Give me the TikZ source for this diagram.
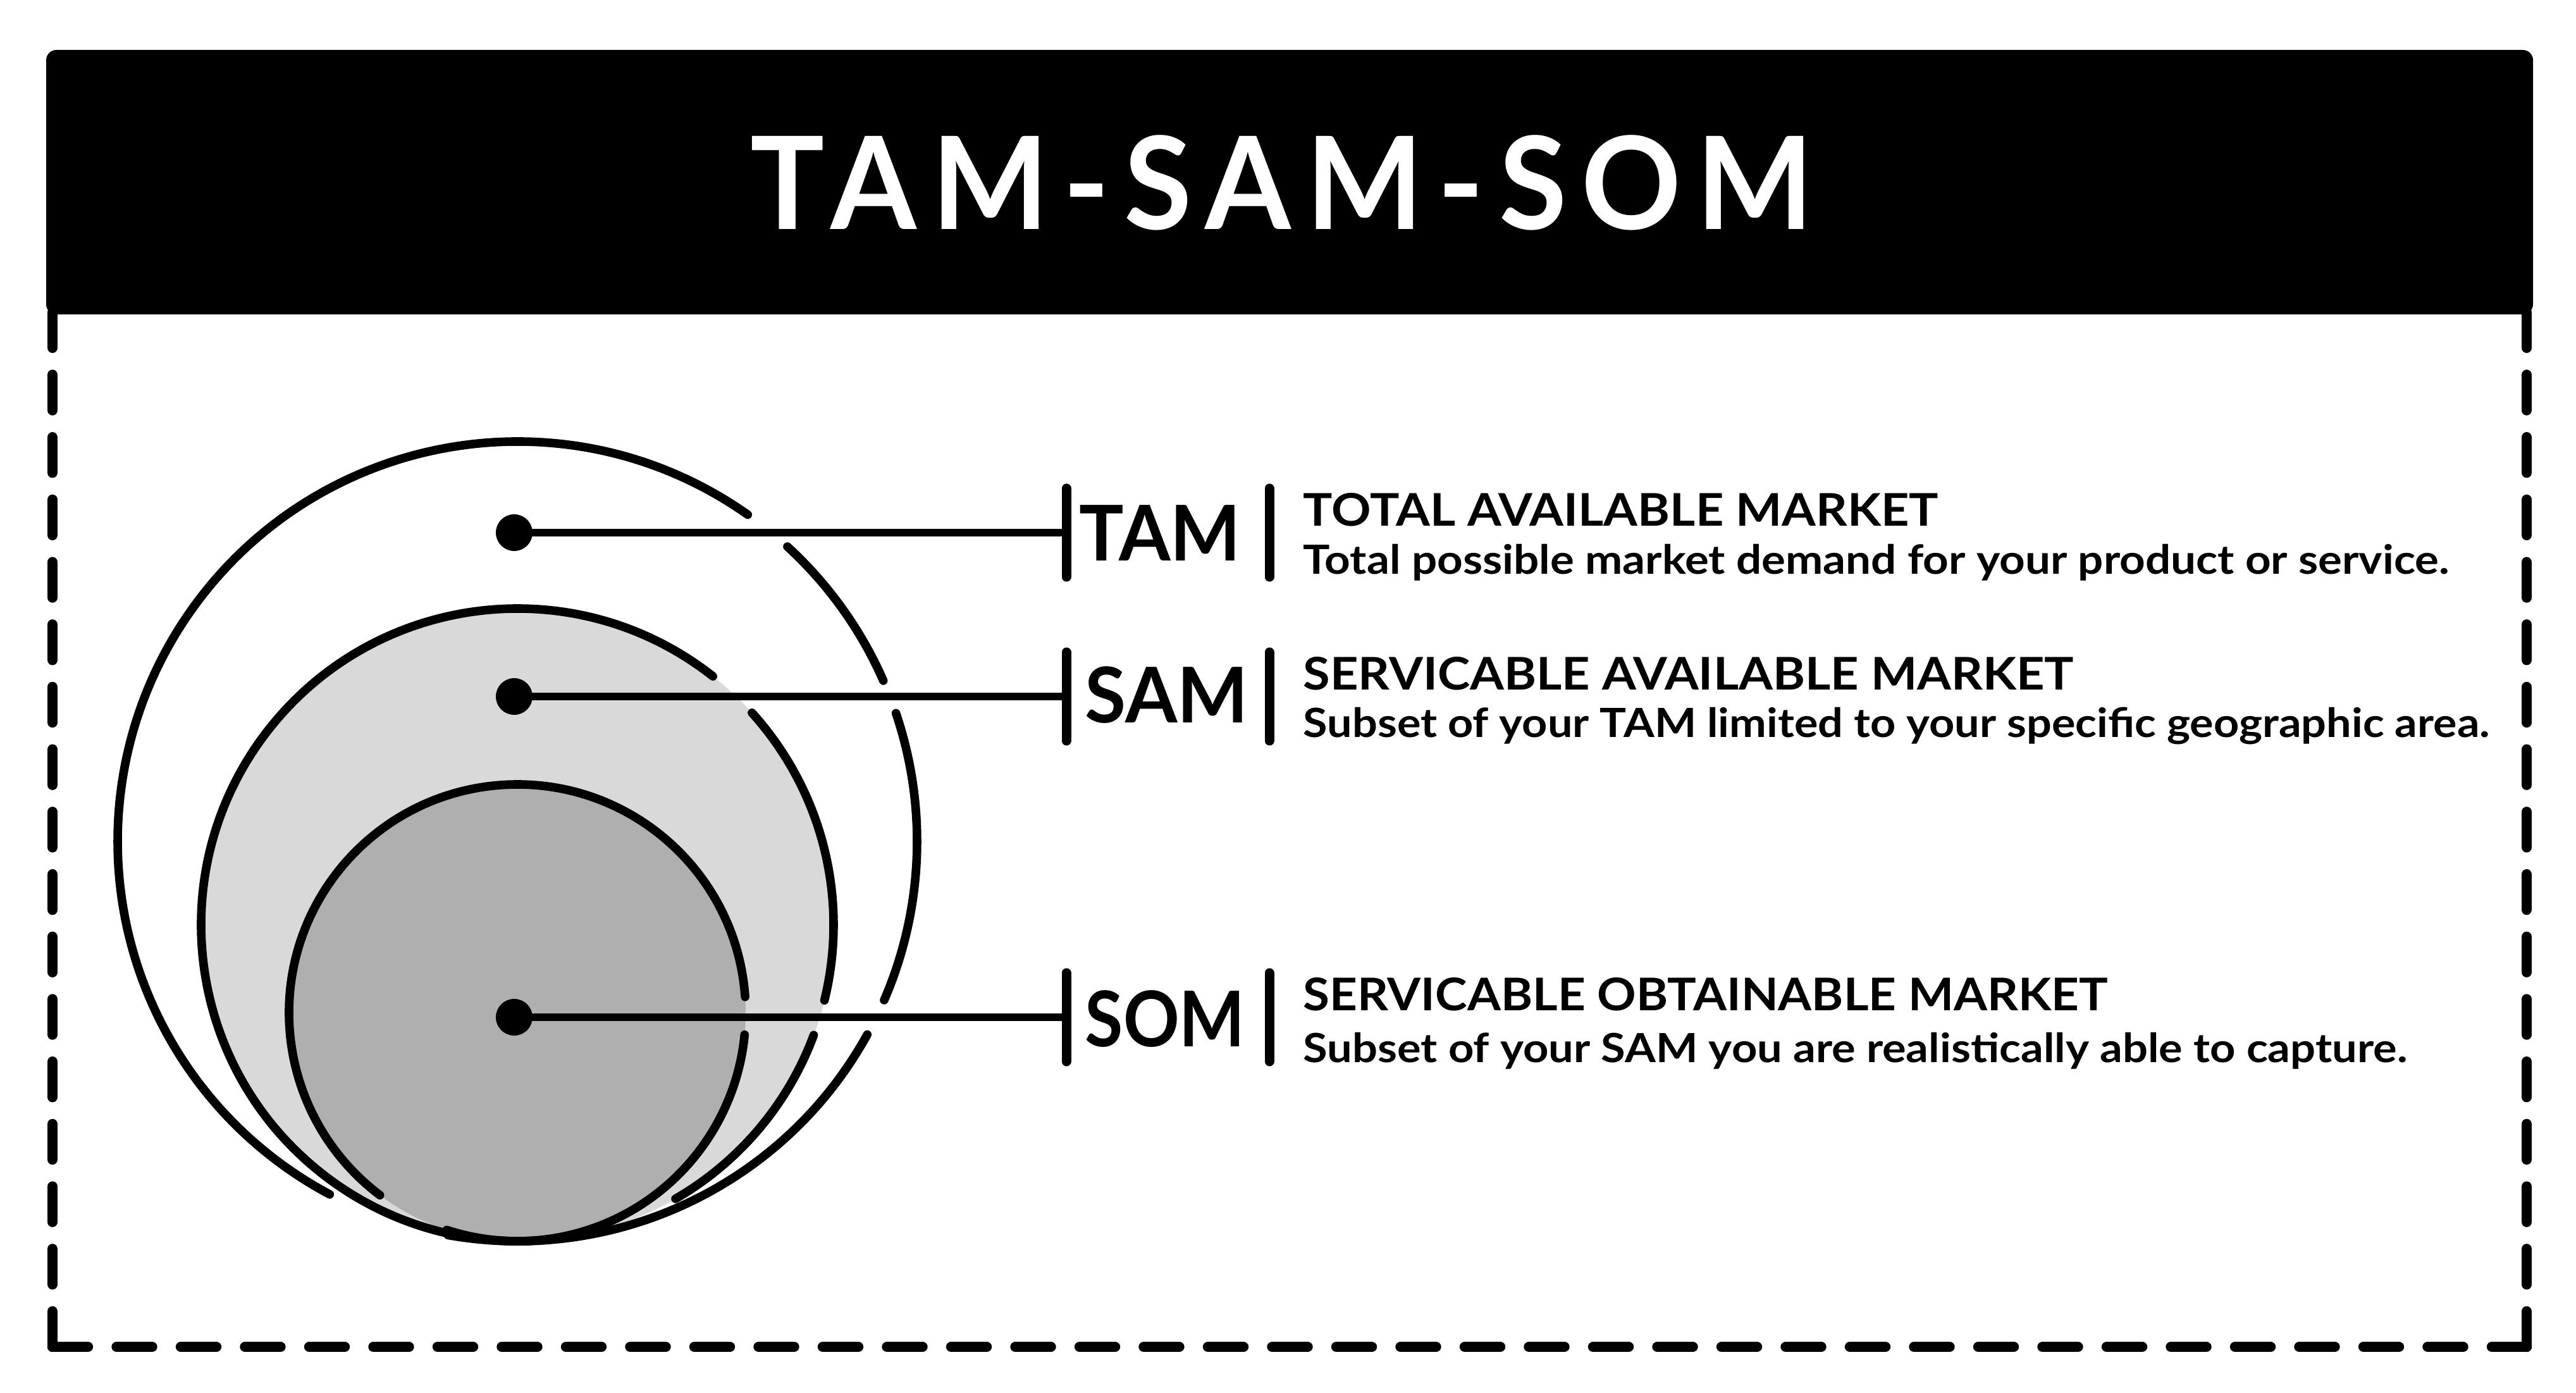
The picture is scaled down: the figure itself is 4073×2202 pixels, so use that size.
\documentclass[tikz,border=0pt]{standalone}
\usepackage{fontspec}
\usepackage{graphicx}
\setmainfont{Lato}
\newfontfamily\titlefont{Lato}[LetterSpace=12]
\definecolor{samgray}{HTML}{D9D9D9}
\definecolor{somgray}{HTML}{AFAFAF}
\newlength\fitlen
\newcommand\fitw[2]{\settowidth{\fitlen}{#2}\pgfmathsetmacro\fitr{#1/\fitlen}\scalebox{\fitr}[1]{#2}}
\newcommand\ringarc[5]{\draw[ring] ([shift={(#4:#3)}]#1,#2) arc[start angle=#4, end angle=#5, radius=#3];}
\begin{document}
\begin{tikzpicture}[x=0.25pt,y=0.25pt,
  ring/.style={line width=3.4pt, line cap=round},
  link/.style={line width=3pt, line cap=round},
  barline/.style={line width=3.75pt, line cap=round},
  dotnode/.style={circle, fill=black, minimum size=14.5pt, inner sep=0pt},
  frameline/.style={line width=4.1pt, line cap=round},
  lbl/.style={anchor=base west, inner sep=0pt, font=\bfseries\fontsize{30.4pt}{31pt}\selectfont},
  head/.style={anchor=base west, inner sep=0pt, font=\bfseries\fontsize{17.8pt}{18pt}\selectfont},
  desc/.style={anchor=base west, inner sep=0pt, font=\bfseries\fontsize{15.9pt}{16pt}\selectfont},
]
\useasboundingbox (0,0) rectangle (4073,-2202);
\fill[white] (0,0) rectangle (4073,-2202);

% dashed frame
\draw[frameline, dash pattern=on 14pt off 10.675pt] (83,-2129) -- (83,-494);
\draw[frameline, dash pattern=on 14pt off 11.375pt] (83,-2129) -- (3995,-2129);
\draw[frameline, dash pattern=on 14pt off 10.675pt] (3995,-2129) -- (3995,-494);

% header
\fill[black, rounded corners=4pt] (73,-79) rectangle (4005,-497);
\node[anchor=base west, inner sep=0pt, text=white, font=\titlefont\bfseries\fontsize{50.9pt}{51pt}\selectfont] (title) at (1186,-363) {\fitw{420pt}{TAM-SAM-SOM}};

% fills
\fill[samgray] (818,-1462) circle[radius=500];
\fill[somgray] (818,-1601) circle[radius=361];

% TAM ring
\ringarc{818}{-1330}{632}{54.8}{242}
\ringarc{818}{-1330}{632}{23.7}{47.5}
\ringarc{818}{-1330}{632}{-23.4}{18.7}
\ringarc{818}{-1330}{632}{-100}{-28.9}
% SAM ring
\ringarc{818}{-1462}{500}{51.8}{285}
\ringarc{818}{-1462}{500}{-13.8}{42.1}
\ringarc{818}{-1462}{500}{-60}{-20.4}
% SOM ring
\ringarc{818}{-1601}{361}{4}{233}
\ringarc{818}{-1601}{361}{-108}{-5.5}

% dots and bar coordinates
\node[dotnode] (dotT) at (813,-842) {};
\node[dotnode] (dotS) at (813,-1101) {};
\node[dotnode] (dotO) at (813,-1608) {};
\coordinate (barT) at (1686,-842);
\coordinate (barS) at (1686,-1101);
\coordinate (barO) at (1686,-1608);
\coordinate (endT) at (2007,-842);
\coordinate (endS) at (2007,-1101);
\coordinate (endO) at (2007,-1608);

\draw[link] (dotT.center) -- (barT);
\draw[link] (dotS.center) -- (barS);
\draw[link] (dotO.center) -- (barO);

\foreach \c in {barT,barS,barO,endT,endS,endO}{
  \draw[barline] ([yshift=17.5pt]\c) -- ([yshift=-17.5pt]\c);
}

% labels
\node[lbl] (lblT) at (1706,-887) {\fitw{63.75pt}{TAM}};
\node[lbl] (lblS) at (1715,-1143) {\fitw{64.5pt}{SAM}};
\node[lbl] (lblO) at (1715,-1654) {\fitw{63.25pt}{SOM}};

% headings and descriptions
\node[head] (headT) at (2060,-832) {\fitw{251pt}{TOTAL AVAILABLE MARKET}};
\node[desc] (descT) at (2060,-908) {\fitw{453pt}{Total possible market demand for your product or service.}};
\node[head] (headS) at (2060,-1091) {\fitw{304.5pt}{SERVICABLE AVAILABLE MARKET}};
\node[desc] (descS) at (2060,-1166) {\fitw{469pt}{Subset of your TAM limited to your specific geographic area.}};
\node[head] (headO) at (2060,-1597) {\fitw{318pt}{SERVICABLE OBTAINABLE MARKET}};
\node[desc] (descO) at (2060,-1679) {\fitw{436.25pt}{Subset of your SAM you are realistically able to capture.}};
\end{tikzpicture}
\end{document}
